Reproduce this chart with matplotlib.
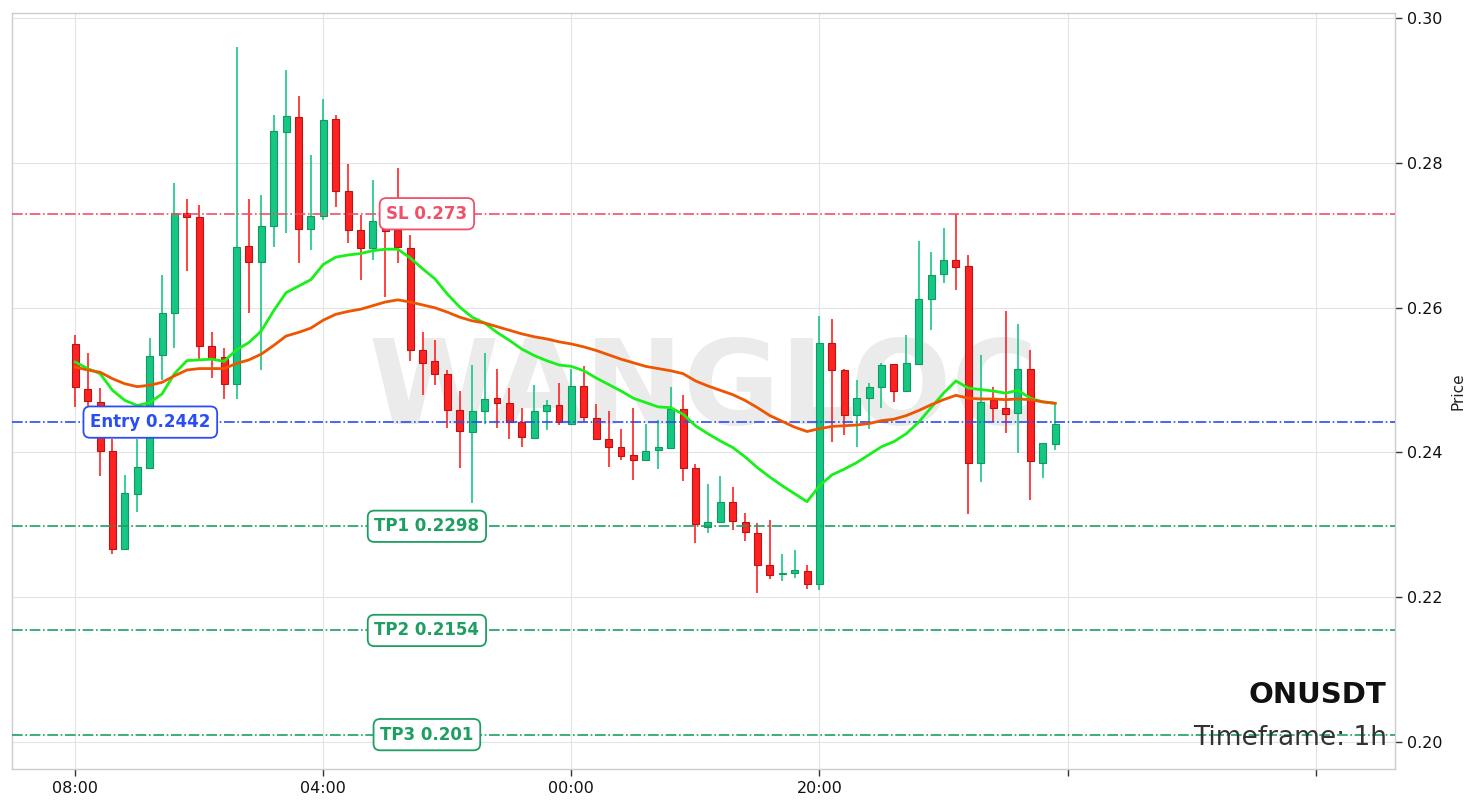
import matplotlib
matplotlib.use("Agg")
import matplotlib.pyplot as plt
import matplotlib.transforms as mtransforms
import numpy as np
import pandas as pd

# ---------------- data ----------------
opens = [0.2550, 0.2488, 0.2470, 0.2402, 0.2267, 0.2343, 0.2379, 0.2535, 0.2593, 0.2731,
         0.2726, 0.2547, 0.2532, 0.2495, 0.2685, 0.2664, 0.2713, 0.2843, 0.2864, 0.2709,
         0.2727, 0.2861, 0.2762, 0.2708, 0.2683, 0.2711, 0.2707, 0.2683, 0.2542, 0.2526,
         0.2509, 0.2459, 0.2428, 0.2457, 0.2475, 0.2469, 0.2442, 0.2420, 0.2457, 0.2466,
         0.2440, 0.2492, 0.2448, 0.2419, 0.2408, 0.2397, 0.2390, 0.2403, 0.2406, 0.2460,
         0.2379, 0.2297, 0.2304, 0.2331, 0.2304, 0.2289, 0.2244, 0.2232, 0.2233, 0.2236,
         0.2218, 0.2551, 0.2514, 0.2452, 0.2475, 0.2491, 0.2523, 0.2485, 0.2523, 0.2612,
         0.2647, 0.2666, 0.2658, 0.2386, 0.2472, 0.2462, 0.2455, 0.2515, 0.2386, 0.2412]
highs = [0.2562, 0.2537, 0.2489, 0.2418, 0.2369, 0.2419, 0.2558, 0.2645, 0.2772, 0.2751,
         0.2742, 0.2566, 0.2545, 0.2960, 0.2750, 0.2756, 0.2867, 0.2929, 0.2893, 0.2811,
         0.2888, 0.2866, 0.2799, 0.2728, 0.2776, 0.2728, 0.2793, 0.2701, 0.2567, 0.2555,
         0.2514, 0.2485, 0.2521, 0.2538, 0.2516, 0.2489, 0.2462, 0.2493, 0.2472, 0.2496,
         0.2516, 0.2519, 0.2467, 0.2458, 0.2432, 0.2462, 0.2439, 0.2445, 0.2490, 0.2479,
         0.2384, 0.2356, 0.2368, 0.2352, 0.2316, 0.2302, 0.2306, 0.2260, 0.2265, 0.2244,
         0.2589, 0.2585, 0.2516, 0.2500, 0.2496, 0.2524, 0.2523, 0.2562, 0.2693, 0.2677,
         0.2710, 0.2730, 0.2673, 0.2535, 0.2490, 0.2596, 0.2578, 0.2542, 0.2413, 0.2467]
lows = [0.2463, 0.2457, 0.2368, 0.2260, 0.2267, 0.2318, 0.2379, 0.2500, 0.2545, 0.2651,
        0.2529, 0.2503, 0.2474, 0.2474, 0.2593, 0.2514, 0.2684, 0.2704, 0.2662, 0.2680,
        0.2722, 0.2740, 0.2690, 0.2638, 0.2666, 0.2615, 0.2662, 0.2527, 0.2479, 0.2493,
        0.2434, 0.2379, 0.2330, 0.2439, 0.2434, 0.2419, 0.2407, 0.2419, 0.2431, 0.2438,
        0.2440, 0.2442, 0.2417, 0.2380, 0.2390, 0.2362, 0.2390, 0.2377, 0.2405, 0.2360,
        0.2275, 0.2289, 0.2302, 0.2293, 0.2277, 0.2206, 0.2225, 0.2223, 0.2226, 0.2211,
        0.2210, 0.2415, 0.2424, 0.2408, 0.2433, 0.2462, 0.2470, 0.2485, 0.2523, 0.2569,
        0.2634, 0.2624, 0.2315, 0.2359, 0.2442, 0.2427, 0.2399, 0.2335, 0.2365, 0.2403]
closes = [0.2490, 0.2471, 0.2402, 0.2267, 0.2344, 0.2380, 0.2533, 0.2593, 0.2731, 0.2725,
          0.2547, 0.2531, 0.2495, 0.2684, 0.2664, 0.2713, 0.2845, 0.2865, 0.2709, 0.2727,
          0.2860, 0.2762, 0.2708, 0.2683, 0.2720, 0.2706, 0.2684, 0.2542, 0.2524, 0.2509,
          0.2459, 0.2430, 0.2458, 0.2474, 0.2469, 0.2442, 0.2421, 0.2458, 0.2466, 0.2442,
          0.2492, 0.2449, 0.2419, 0.2407, 0.2395, 0.2390, 0.2402, 0.2407, 0.2460, 0.2379,
          0.2301, 0.2304, 0.2332, 0.2305, 0.2290, 0.2244, 0.2231, 0.2234, 0.2237, 0.2218,
          0.2551, 0.2514, 0.2452, 0.2475, 0.2491, 0.2521, 0.2485, 0.2524, 0.2612, 0.2646,
          0.2666, 0.2657, 0.2386, 0.2470, 0.2462, 0.2453, 0.2515, 0.2388, 0.2413, 0.2440]
ma_fast = [0.2525, 0.2516, 0.2509, 0.2486, 0.2472, 0.2465, 0.2469, 0.2481, 0.2509, 0.2527,
           0.2528, 0.2529, 0.2526, 0.2542, 0.2552, 0.2568, 0.2596, 0.2621, 0.2630, 0.2639,
           0.2660, 0.2670, 0.2673, 0.2675, 0.2679, 0.2681, 0.2681, 0.2669, 0.2654, 0.2640,
           0.2619, 0.2601, 0.2587, 0.2579, 0.2566, 0.2555, 0.2543, 0.2534, 0.2527, 0.2521,
           0.2519, 0.2513, 0.2503, 0.2494, 0.2485, 0.2475, 0.2469, 0.2463, 0.2462, 0.2453,
           0.2437, 0.2426, 0.2416, 0.2407, 0.2394, 0.2379, 0.2366, 0.2354, 0.2343, 0.2332,
           0.2354, 0.2369, 0.2377, 0.2386, 0.2397, 0.2408, 0.2415, 0.2426, 0.2442, 0.2462,
           0.2482, 0.2499, 0.2489, 0.2487, 0.2485, 0.2482, 0.2486, 0.2475, 0.2470, 0.2468]
ma_slow = [0.2518, 0.2514, 0.2511, 0.2502, 0.2495, 0.2491, 0.2493, 0.2497, 0.2506, 0.2514,
           0.2516, 0.2516, 0.2516, 0.2523, 0.2528, 0.2536, 0.2548, 0.2561, 0.2566, 0.2572,
           0.2583, 0.2591, 0.2595, 0.2598, 0.2603, 0.2608, 0.2611, 0.2608, 0.2604, 0.2600,
           0.2594, 0.2587, 0.2582, 0.2579, 0.2574, 0.2569, 0.2564, 0.2560, 0.2557, 0.2553,
           0.2550, 0.2546, 0.2541, 0.2535, 0.2529, 0.2524, 0.2519, 0.2516, 0.2513, 0.2509,
           0.2499, 0.2492, 0.2486, 0.2480, 0.2472, 0.2462, 0.2451, 0.2443, 0.2435, 0.2429,
           0.2433, 0.2436, 0.2437, 0.2438, 0.2440, 0.2444, 0.2446, 0.2451, 0.2458, 0.2466,
           0.2473, 0.2479, 0.2475, 0.2474, 0.2474, 0.2473, 0.2474, 0.2473, 0.2470, 0.2468]

start_time = "2024-01-01 08:00"
level_names = ["SL", "Entry", "TP1", "TP2", "TP3"]
level_values = [0.273, 0.2442, 0.2298, 0.2154, 0.201]
level_texts = ["SL 0.273", "Entry 0.2442", "TP1 0.2298", "TP2 0.2154", "TP3 0.201"]
symbol = "ONUSDT"
timeframe = "1h"
watermark = "WANGLOC"

# ---------------- styling ----------------
GREEN = "#16c784"
GREEN_EDGE = "#0e9a60"
RED = "#ff2222"
RED_EDGE = "#b81414"
level_colors = {"SL": "#f0506a", "Entry": "#2a4df5", "TP1": "#1f9e62", "TP2": "#1f9e62", "TP3": "#1f9e62"}
label_xfrac = {"SL": 0.30, "Entry": 0.10, "TP1": 0.30, "TP2": 0.30, "TP3": 0.30}

plt.rcParams['font.family'] = ['DejaVu Sans']

fig = plt.figure(figsize=(14.79, 8.09), dpi=100)
ax = fig.add_axes([12 / 1479, 1 - 769 / 809, (1395 - 12) / 1479, (769 - 13) / 809])
ax.set_facecolor("white")

n = len(closes)
x = np.arange(n)
o = np.array(opens); h = np.array(highs); l = np.array(lows); c = np.array(closes)
up = c >= o

# watermark
ax.text(0.5, 0.5, watermark, transform=ax.transAxes, ha="center", va="center",
        fontsize=85, fontweight="bold", color="#ebebeb", zorder=0)

# wicks
ax.vlines(x[up], l[up], h[up], color=GREEN, lw=1.2, zorder=2)
ax.vlines(x[~up], l[~up], h[~up], color=RED, lw=1.2, zorder=2)
# bodies
body_h = np.abs(c - o)
body_h = np.maximum(body_h, 0.00012)
body_b = np.minimum(o, c)
ax.bar(x[up], body_h[up], bottom=body_b[up], width=0.56, color=GREEN,
       edgecolor=GREEN_EDGE, linewidth=0.8, zorder=3)
ax.bar(x[~up], body_h[~up], bottom=body_b[~up], width=0.56, color=RED,
       edgecolor=RED_EDGE, linewidth=0.8, zorder=3)

# levels
trans = mtransforms.blended_transform_factory(ax.transAxes, ax.transData)
for name, val, txt in zip(level_names, level_values, level_texts):
    col = level_colors[name]
    ax.axhline(val, color=col, lw=1.2, ls="-.", zorder=4)
    ax.text(label_xfrac[name], val, txt, transform=trans, ha="center", va="center",
            fontsize=12, fontweight="bold", color=col, zorder=6,
            bbox=dict(boxstyle="round,pad=0.4", fc="white", ec=col, lw=1.3))

# moving averages
ax.plot(x, ma_fast, color="#19f019", lw=2, zorder=5)
ax.plot(x, ma_slow, color="#ee5500", lw=2, zorder=5)

# axes
ax.set_xlim(-5.1, 106.4)
ax.set_ylim(0.19625, 0.30075)
ax.yaxis.tick_right()
ax.yaxis.set_label_position("right")
ax.set_yticks([0.20, 0.22, 0.24, 0.26, 0.28, 0.30])
ax.set_yticklabels([f"{v:.2f}" for v in [0.20, 0.22, 0.24, 0.26, 0.28, 0.30]])
ax.set_ylabel("Price", fontsize=11, labelpad=6, color="#222222")

times = pd.date_range(start_time, periods=n, freq="h")
tick_pos = [0, 20, 40, 60, 80, 100]
tick_lab = [times[p].strftime("%H:%M") if p < n else "" for p in tick_pos]
ax.set_xticks(tick_pos)
ax.set_xticklabels(tick_lab)

ax.tick_params(axis="both", labelsize=11.5, length=5, width=1, color="#333333", labelcolor="#111111")
ax.grid(True, color="#e3e3e3", lw=0.8, zorder=1)
ax.set_axisbelow(True)
for s in ax.spines.values():
    s.set_color("#cccccc")
    s.set_linewidth(1)

ax.text(0.994, 0.098, symbol, transform=ax.transAxes, ha="right", va="center",
        fontsize=21, fontweight="bold", color="#111111", zorder=7)
ax.text(0.994, 0.041, f"Timeframe: {timeframe}", transform=ax.transAxes, ha="right", va="center",
        fontsize=19, color="#333333", zorder=7)

fig.savefig("out.png", dpi=100, facecolor="white")
